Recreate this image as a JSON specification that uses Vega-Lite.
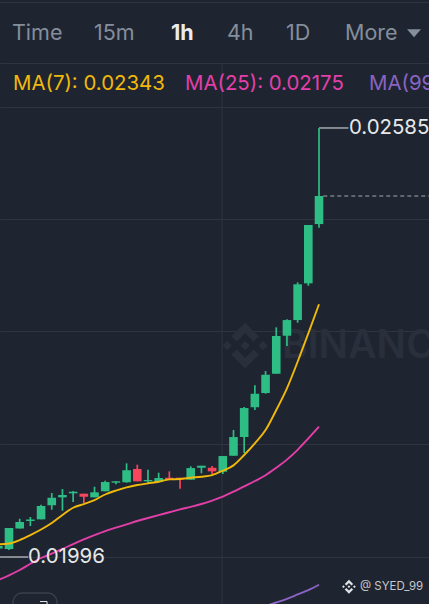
{"$schema":"https://vega.github.io/schema/vega-lite/v6.json","width":429,"height":604,"autosize":{"type":"fit","contains":"padding"},"padding":0,"background":"#1f2530",
"config":{"view":{"stroke":null},"scale":{"continuousPadding":0},"axisY":{"grid":true,"gridColor":"#2f3540","gridWidth":1,"labels":false,"ticks":false,"domain":false,"minExtent":0,"maxExtent":0,"labelPadding":0,"titlePadding":0}},
"datasets":{
"candles":[
{"t":-1,"open":0.020076,"close":0.020110,"low":0.020042,"high":0.020124,"kind":"up"},
{"t":0,"open":0.020069,"close":0.020358,"low":0.020055,"high":0.020358,"kind":"up"},
{"t":1,"open":0.020351,"close":0.020440,"low":0.020351,"high":0.020485,"kind":"up"},
{"t":2,"open":0.020454,"close":0.020474,"low":0.020385,"high":0.020509,"kind":"up"},
{"t":3,"open":0.020477,"close":0.020660,"low":0.020477,"high":0.020678,"kind":"up"},
{"t":4,"open":0.020669,"close":0.020774,"low":0.020609,"high":0.020838,"kind":"up"},
{"t":5,"open":0.020779,"close":0.020811,"low":0.020595,"high":0.020893,"kind":"up"},
{"t":6,"open":0.020834,"close":0.020856,"low":0.020715,"high":0.020866,"kind":"up"},
{"t":7,"open":0.020829,"close":0.020787,"low":0.020701,"high":0.020829,"kind":"down"},
{"t":8,"open":0.020779,"close":0.020848,"low":0.020779,"high":0.020925,"kind":"up"},
{"t":9,"open":0.020862,"close":0.020989,"low":0.020862,"high":0.021007,"kind":"up"},
{"t":10,"open":0.020980,"close":0.020999,"low":0.020958,"high":0.020999,"kind":"up"},
{"t":11,"open":0.020985,"close":0.021150,"low":0.020980,"high":0.021246,"kind":"up"},
{"t":12,"open":0.021168,"close":0.020999,"low":0.020999,"high":0.021227,"kind":"down"},
{"t":13,"open":0.020999,"close":0.021017,"low":0.020966,"high":0.021158,"kind":"up"},
{"t":14,"open":0.020989,"close":0.021044,"low":0.020985,"high":0.021117,"kind":"up"},
{"t":15,"open":0.021048,"close":0.021030,"low":0.021017,"high":0.021136,"kind":"down"},
{"t":16,"open":0.021048,"close":0.021030,"low":0.020897,"high":0.021048,"kind":"down"},
{"t":17,"open":0.021021,"close":0.021181,"low":0.021021,"high":0.021205,"kind":"up"},
{"t":18,"open":0.021185,"close":0.021213,"low":0.021109,"high":0.021213,"kind":"up"},
{"t":19,"open":0.021185,"close":0.021136,"low":0.021095,"high":0.021209,"kind":"down"},
{"t":20,"open":0.021131,"close":0.021346,"low":0.021099,"high":0.021346,"kind":"up"},
{"t":21,"open":0.021350,"close":0.021607,"low":0.021350,"high":0.021703,"kind":"up"},
{"t":22,"open":0.021607,"close":0.022005,"low":0.021387,"high":0.022019,"kind":"up"},
{"t":23,"open":0.022015,"close":0.022202,"low":0.021978,"high":0.022317,"kind":"up"},
{"t":24,"open":0.022211,"close":0.022462,"low":0.022202,"high":0.022513,"kind":"up"},
{"t":25,"open":0.022476,"close":0.022994,"low":0.022476,"high":0.023113,"kind":"up"},
{"t":26,"open":0.022998,"close":0.023213,"low":0.022856,"high":0.023223,"kind":"up"},
{"t":27,"open":0.023213,"close":0.023704,"low":0.023176,"high":0.023731,"kind":"up"},
{"t":28,"open":0.023717,"close":0.024518,"low":0.023684,"high":0.024518,"kind":"up"},
{"t":29,"open":0.024531,"close":0.024916,"low":0.024481,"high":0.025850,"kind":"up"}
],
"ma":[
{"t":-1,"price":0.020134,"kind":"MA(7)"},{"t":0,"price":0.020145,"kind":"MA(7)"},{"t":1,"price":0.020193,"kind":"MA(7)"},{"t":2,"price":0.020261,"kind":"MA(7)"},{"t":3,"price":0.020337,"kind":"MA(7)"},{"t":4,"price":0.020426,"kind":"MA(7)"},{"t":5,"price":0.020536,"kind":"MA(7)"},{"t":6,"price":0.020636,"kind":"MA(7)"},{"t":7,"price":0.020687,"kind":"MA(7)"},{"t":8,"price":0.020742,"kind":"MA(7)"},{"t":9,"price":0.020818,"kind":"MA(7)"},{"t":10,"price":0.020872,"kind":"MA(7)"},{"t":11,"price":0.020916,"kind":"MA(7)"},{"t":12,"price":0.020948,"kind":"MA(7)"},{"t":13,"price":0.020971,"kind":"MA(7)"},{"t":14,"price":0.020993,"kind":"MA(7)"},{"t":15,"price":0.021026,"kind":"MA(7)"},{"t":16,"price":0.021030,"kind":"MA(7)"},{"t":17,"price":0.021048,"kind":"MA(7)"},{"t":18,"price":0.021062,"kind":"MA(7)"},{"t":19,"price":0.021085,"kind":"MA(7)"},{"t":20,"price":0.021144,"kind":"MA(7)"},{"t":21,"price":0.021218,"kind":"MA(7)"},{"t":22,"price":0.021360,"kind":"MA(7)"},{"t":23,"price":0.021520,"kind":"MA(7)"},{"t":24,"price":0.021703,"kind":"MA(7)"},{"t":25,"price":0.021978,"kind":"MA(7)"},{"t":26,"price":0.022276,"kind":"MA(7)"},{"t":27,"price":0.022641,"kind":"MA(7)"},{"t":28,"price":0.023031,"kind":"MA(7)"},{"t":29,"price":0.023430,"kind":"MA(7)"},
{"t":-1,"price":0.019644,"kind":"MA(25)"},{"t":0,"price":0.019708,"kind":"MA(25)"},{"t":1,"price":0.019781,"kind":"MA(25)"},{"t":2,"price":0.019867,"kind":"MA(25)"},{"t":3,"price":0.019946,"kind":"MA(25)"},{"t":4,"price":0.020006,"kind":"MA(25)"},{"t":5,"price":0.020070,"kind":"MA(25)"},{"t":6,"price":0.020138,"kind":"MA(25)"},{"t":7,"price":0.020202,"kind":"MA(25)"},{"t":8,"price":0.020261,"kind":"MA(25)"},{"t":9,"price":0.020316,"kind":"MA(25)"},{"t":10,"price":0.020363,"kind":"MA(25)"},{"t":11,"price":0.020408,"kind":"MA(25)"},{"t":12,"price":0.020454,"kind":"MA(25)"},{"t":13,"price":0.020495,"kind":"MA(25)"},{"t":14,"price":0.020535,"kind":"MA(25)"},{"t":15,"price":0.020574,"kind":"MA(25)"},{"t":16,"price":0.020614,"kind":"MA(25)"},{"t":17,"price":0.020649,"kind":"MA(25)"},{"t":18,"price":0.020687,"kind":"MA(25)"},{"t":19,"price":0.020735,"kind":"MA(25)"},{"t":20,"price":0.020790,"kind":"MA(25)"},{"t":21,"price":0.020856,"kind":"MA(25)"},{"t":22,"price":0.020930,"kind":"MA(25)"},{"t":23,"price":0.021003,"kind":"MA(25)"},{"t":24,"price":0.021082,"kind":"MA(25)"},{"t":25,"price":0.021185,"kind":"MA(25)"},{"t":26,"price":0.021297,"kind":"MA(25)"},{"t":27,"price":0.021431,"kind":"MA(25)"},{"t":28,"price":0.021588,"kind":"MA(25)"},{"t":29,"price":0.021750,"kind":"MA(25)"},
{"t":24,"price":0.019287,"kind":"MA(99)"},{"t":25,"price":0.019335,"kind":"MA(99)"},{"t":26,"price":0.019385,"kind":"MA(99)"},{"t":27,"price":0.019445,"kind":"MA(99)"},{"t":28,"price":0.019506,"kind":"MA(99)"},{"t":29,"price":0.019579,"kind":"MA(99)"}
],
"rules":[
{"t":19.93,"t2":19.93,"price":0.02674,"price2":0.0193,"kind":"grid"},
{"t":-0.85,"t2":1.8,"price":0.01996,"price2":0.01996,"kind":"leader"},
{"t":29,"t2":31.75,"price":0.02585,"price2":0.02585,"kind":"leader"},
{"t":2.9,"t2":3.56,"price":0.019348,"price2":0.019348,"kind":"leader"},
{"t":3.56,"t2":3.56,"price":0.019348,"price2":0.01931,"kind":"leader"}
],
"tabs":[
{"label":"Time","t":0.28,"price":0.02714,"kind":"tab"},
{"label":"15m","t":7.95,"price":0.02714,"kind":"tab"},
{"label":"4h","t":20.39,"price":0.02714,"kind":"tab"},
{"label":"1D","t":25.91,"price":0.02714,"kind":"tab"},
{"label":"More","t":31.43,"price":0.02714,"kind":"tab"}
],
"values":[
{"label":"MA(7): 0.02343","t":0.37,"price":0.026454,"kind":"MA(7)"},
{"label":"MA(25): 0.02175","t":16.46,"price":0.026454,"kind":"MA(25)"},
{"label":"MA(99): 0.01958","t":33.68,"price":0.026454,"kind":"MA(99)"},
{"label":"0.02585","t":31.8,"price":0.02585,"kind":"leader"},
{"label":"0.01996","t":1.78,"price":0.01996,"kind":"leader"}
]
},
"layer":[
{"data":{"values":[{"t":0,"price":0.0246}]},"mark":{"type":"point","opacity":0},
"encoding":{"x":{"field":"t","type":"quantitative","scale":{"domain":[-0.842,39.289],"padding":0},"axis":null},
"y":{"field":"price","type":"quantitative","scale":{"domain":[0.0193145,0.0276074]},
"axis":{"values":[0.02758,0.026742,0.026138,0.0246,0.023062,0.021511,0.019959],"title":null}}}},
{"data":{"name":"rules"},"mark":{"type":"rule","strokeWidth":1,"clip":true},
"encoding":{"x":{"field":"t","type":"quantitative","scale":{"domain":[-0.842,39.289],"padding":0},"axis":null},"x2":{"field":"t2"},
"y":{"field":"price","type":"quantitative","scale":{"domain":[0.0193145,0.0276074]},"axis":{"title":null}},"y2":{"field":"price2"},
"color":{"field":"kind","type":"nominal","legend":null,"scale":{"domain":["up","down","MA(7)","MA(25)","MA(99)","grid","leader","tab","active"],"range":["#2ebd85","#f6465d","#f0b90b","#e43fa9","#8a63c4","#2f3540","#e6e8ea","#848e9c","#eaecef"]}}}},
{"data":{"values":[{"label":"BINANCE","t":25.54,"price":0.022856}]},"mark":{"type":"text","font":"Inter","fontSize":39,"fontWeight":600,"align":"left","baseline":"middle","color":"#292f3b","clip":true},
"encoding":{"x":{"field":"t","type":"quantitative","scale":{"domain":[-0.842,39.289],"padding":0},"axis":null},"y":{"field":"price","type":"quantitative","scale":{"domain":[0.0193145,0.0276074]},"axis":{"title":null}},"text":{"field":"label"}}},
{"data":{"values":[{"t":22.09,"price":0.022863}]},"mark":{"type":"point","filled":true,"opacity":1,"color":"#292f3b","size":2116,"shape":"M0,-1L.6,-.4L.37,-.17L0,-.54L-.37,-.17L-.6,-.4ZM0,1L.6,.4L.37,.17L0,.54L-.37,.17L-.6,.4ZM0,-.2L.2,0L0,.2L-.2,0ZM-.78,-.2L-.58,0L-.78,.2L-.98,0ZM.78,-.2L.98,0L.78,.2L.58,0Z"},
"encoding":{"x":{"field":"t","type":"quantitative","scale":{"domain":[-0.842,39.289],"padding":0},"axis":null},"y":{"field":"price","type":"quantitative","scale":{"domain":[0.0193145,0.0276074]},"axis":{"title":null}}}},
{"data":{"name":"candles"},"mark":{"type":"rule","strokeWidth":1.7,"clip":true},
"encoding":{"x":{"field":"t","type":"quantitative","scale":{"domain":[-0.842,39.289],"padding":0},"axis":null},
"y":{"field":"low","type":"quantitative","scale":{"domain":[0.0193145,0.0276074]},"axis":{"title":null}},"y2":{"field":"high"},
"color":{"field":"kind","type":"nominal","legend":null,"scale":{"domain":["up","down","MA(7)","MA(25)","MA(99)","grid","leader","tab","active"],"range":["#2ebd85","#f6465d","#f0b90b","#e43fa9","#8a63c4","#2f3540","#e6e8ea","#848e9c","#eaecef"]}}}},
{"data":{"name":"candles"},"mark":{"type":"bar","size":8.6,"orient":"vertical","clip":true},
"encoding":{"x":{"field":"t","type":"quantitative","scale":{"domain":[-0.842,39.289],"padding":0},"axis":null},
"y":{"field":"open","type":"quantitative","scale":{"domain":[0.0193145,0.0276074]},"axis":{"title":null}},"y2":{"field":"close"},
"color":{"field":"kind","type":"nominal","legend":null,"scale":{"domain":["up","down","MA(7)","MA(25)","MA(99)","grid","leader","tab","active"],"range":["#2ebd85","#f6465d","#f0b90b","#e43fa9","#8a63c4","#2f3540","#e6e8ea","#848e9c","#eaecef"]}}}},
{"data":{"name":"ma"},"mark":{"type":"line","strokeWidth":1.9,"clip":true,"interpolate":"monotone"},
"encoding":{"x":{"field":"t","type":"quantitative","scale":{"domain":[-0.842,39.289],"padding":0},"axis":null},
"y":{"field":"price","type":"quantitative","scale":{"domain":[0.0193145,0.0276074]},"axis":{"title":null}},
"detail":{"field":"kind"},
"color":{"field":"kind","type":"nominal","legend":null,"scale":{"domain":["up","down","MA(7)","MA(25)","MA(99)","grid","leader","tab","active"],"range":["#2ebd85","#f6465d","#f0b90b","#e43fa9","#8a63c4","#2f3540","#e6e8ea","#848e9c","#eaecef"]}}}},
{"data":{"values":[{"t":29.4,"t2":39.29,"price":0.024916}]},"mark":{"type":"rule","strokeWidth":1,"strokeDash":[4,3],"color":"#a3a8b0","clip":true},
"encoding":{"x":{"field":"t","type":"quantitative","scale":{"domain":[-0.842,39.289],"padding":0},"axis":null},"x2":{"field":"t2"},
"y":{"field":"price","type":"quantitative","scale":{"domain":[0.0193145,0.0276074]},"axis":{"title":null}}}},
{"data":{"values":[{"t":0.374,"t2":4.49,"price":0.019465,"price2":0.01915}]},"mark":{"type":"rect","fill":null,"filled":false,"stroke":"#39404b","strokeWidth":1.4,"cornerRadius":9,"clip":true},
"encoding":{"x":{"field":"t","type":"quantitative","scale":{"domain":[-0.842,39.289],"padding":0},"axis":null},"x2":{"field":"t2"},
"y":{"field":"price","type":"quantitative","scale":{"domain":[0.0193145,0.0276074]},"axis":{"title":null}},"y2":{"field":"price2"}}},
{"data":{"name":"tabs"},"mark":{"type":"text","font":"Inter","fontSize":21.5,"align":"left","baseline":"middle","clip":true},
"encoding":{"x":{"field":"t","type":"quantitative","scale":{"domain":[-0.842,39.289],"padding":0},"axis":null},
"y":{"field":"price","type":"quantitative","scale":{"domain":[0.0193145,0.0276074]},"axis":{"title":null}},"text":{"field":"label"},
"color":{"field":"kind","type":"nominal","legend":null,"scale":{"domain":["up","down","MA(7)","MA(25)","MA(99)","grid","leader","tab","active"],"range":["#2ebd85","#f6465d","#f0b90b","#e43fa9","#8a63c4","#2f3540","#e6e8ea","#848e9c","#eaecef"]}}}},
{"data":{"values":[{"label":"1h","t":15.15,"price":0.02714,"kind":"active"}]},"mark":{"type":"text","font":"Inter","fontSize":21.5,"fontWeight":700,"align":"left","baseline":"middle","clip":true},
"encoding":{"x":{"field":"t","type":"quantitative","scale":{"domain":[-0.842,39.289],"padding":0},"axis":null},
"y":{"field":"price","type":"quantitative","scale":{"domain":[0.0193145,0.0276074]},"axis":{"title":null}},"text":{"field":"label"},
"color":{"field":"kind","type":"nominal","legend":null,"scale":{"domain":["up","down","MA(7)","MA(25)","MA(99)","grid","leader","tab","active"],"range":["#2ebd85","#f6465d","#f0b90b","#e43fa9","#8a63c4","#2f3540","#e6e8ea","#848e9c","#eaecef"]}}}},
{"data":{"values":[{"t":37.89,"price":0.027154}]},"mark":{"type":"point","filled":true,"opacity":1,"color":"#848e9c","size":196,"shape":"M-1,-.55L1,-.55L0,.6Z"},
"encoding":{"x":{"field":"t","type":"quantitative","scale":{"domain":[-0.842,39.289],"padding":0},"axis":null},"y":{"field":"price","type":"quantitative","scale":{"domain":[0.0193145,0.0276074]},"axis":{"title":null}}}},
{"data":{"name":"values"},"mark":{"type":"text","font":"Inter","fontSize":20.4,"align":"left","baseline":"middle","clip":true},
"encoding":{"x":{"field":"t","type":"quantitative","scale":{"domain":[-0.842,39.289],"padding":0},"axis":null},
"y":{"field":"price","type":"quantitative","scale":{"domain":[0.0193145,0.0276074]},"axis":{"title":null}},"text":{"field":"label"},
"color":{"field":"kind","type":"nominal","legend":null,"scale":{"domain":["up","down","MA(7)","MA(25)","MA(99)","grid","leader","tab","active"],"range":["#2ebd85","#f6465d","#f0b90b","#e43fa9","#8a63c4","#2f3540","#e6e8ea","#848e9c","#eaecef"]}}}},
{"data":{"values":[{"t":31.8,"price":0.019552}]},"mark":{"type":"point","filled":true,"opacity":1,"color":"#dfe2e6","size":196,"shape":"M0,-1L.6,-.4L.37,-.17L0,-.54L-.37,-.17L-.6,-.4ZM0,1L.6,.4L.37,.17L0,.54L-.37,.17L-.6,.4ZM0,-.2L.2,0L0,.2L-.2,0ZM-.78,-.2L-.58,0L-.78,.2L-.98,0ZM.78,-.2L.98,0L.78,.2L.58,0Z"},
"encoding":{"x":{"field":"t","type":"quantitative","scale":{"domain":[-0.842,39.289],"padding":0},"axis":null},"y":{"field":"price","type":"quantitative","scale":{"domain":[0.0193145,0.0276074]},"axis":{"title":null}}}},
{"data":{"values":[{"label":"@ SYED_99","t":32.83,"price":0.019547}]},"mark":{"type":"text","font":"Inter","fontSize":11.5,"align":"left","baseline":"middle","color":"#c4c8cd","clip":true},
"encoding":{"x":{"field":"t","type":"quantitative","scale":{"domain":[-0.842,39.289],"padding":0},"axis":null},"y":{"field":"price","type":"quantitative","scale":{"domain":[0.0193145,0.0276074]},"axis":{"title":null}},"text":{"field":"label"}}}
]}
